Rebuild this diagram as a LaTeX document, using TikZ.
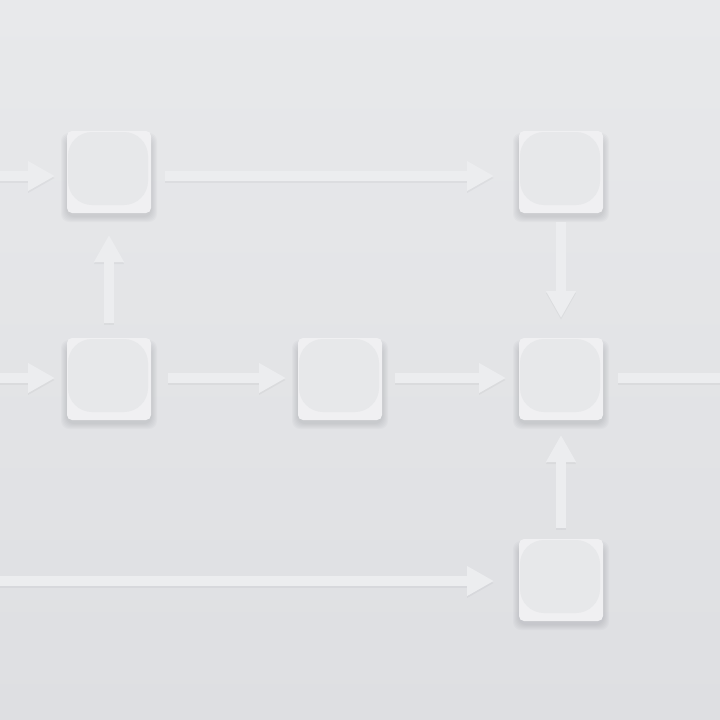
\documentclass[tikz,border=0pt]{standalone}
\usetikzlibrary{arrows.meta,backgrounds}
\definecolor{bgtop}{HTML}{E8E9EB}
\definecolor{bgbot}{HTML}{DEDFE2}
\definecolor{cubeedge}{HTML}{F0F0F2}
\definecolor{cubeface}{HTML}{E7E8EA}
\definecolor{shaftc}{HTML}{ECEDEF}
\definecolor{shadowc}{HTML}{8E9096}
\begin{document}
\begin{tikzpicture}[x=1pt,y=-1pt,
  cube/.style={minimum width=84pt, minimum height=82pt, inner sep=0pt, outer sep=0pt,
    rounded corners=5pt, fill=cubeedge,
    path picture={\fill[cubeface, rounded corners=24pt]
      ([shift={(1pt,-1pt)}]path picture bounding box.north west) rectangle
      ([shift={(-3pt,8pt)}]path picture bounding box.south east);}},
  conn/.style={draw=shaftc, line width=10pt,
    -{Triangle[length=27pt,width=28pt,fill=shaftc]},
    preaction={draw=shadowc, draw opacity=0.10, line width=10pt,
      -{Triangle[length=27pt,width=28pt]}, fill=shadowc, fill opacity=0.10,
      transform canvas={yshift=-2pt}}}
]
\useasboundingbox (0,0) rectangle (720,720);

\node[cube] (A) at (109,172) {};
\node[cube] (B) at (561,172) {};
\node[cube] (C) at (109,379) {};
\node[cube] (D) at (340,379) {};
\node[cube] (E) at (561,379) {};
\node[cube] (F) at (561,580) {};

\coordinate (inA) at (-5,176);
\coordinate (inC) at (-5,378);
\coordinate (inF) at (-5,581);
\coordinate (outE) at (760,378);

\begin{scope}[on background layer]
  \shade[top color=bgtop, bottom color=bgbot] (0,0) rectangle (720,720);
  \foreach \n in {A,B,C,D,E,F}{
    \foreach \k in {1,...,6}{
      \fill[shadowc, opacity=0.05, rounded corners=8pt]
        ([xshift=-\k pt, yshift={-(8-\k)*1pt}]\n.north west) rectangle
        ([xshift=\k pt, yshift={-(3+\k)*1pt}]\n.south east);
    }
  }
\end{scope}

\draw[conn, shorten >=12pt] (inA) -- ([yshift=-4pt]A.west);
\draw[conn, shorten <=14pt, shorten >=25pt] ([yshift=-4pt]A.east) -- ([yshift=-4pt]B.west);
\draw[conn, shorten <=15pt, shorten >=22pt] (C.north) -- (A.south);
\draw[conn, shorten <=9pt, shorten >=20pt] (B.south) -- (E.north);
\draw[conn, shorten >=12pt] (inC) -- ([yshift=1pt]C.west);
\draw[conn, shorten <=17pt, shorten >=12pt] ([yshift=1pt]C.east) -- ([yshift=1pt]D.west);
\draw[conn, shorten <=13pt, shorten >=13pt] ([yshift=1pt]D.east) -- ([yshift=1pt]E.west);
\draw[conn, shorten <=15pt] ([yshift=1pt]E.east) -- (outE);
\draw[conn, shorten <=11pt, shorten >=15pt] (F.north) -- (E.south);
\draw[conn, shorten >=25pt] (inF) -- ([yshift=-1pt]F.west);
\end{tikzpicture}
\end{document}
